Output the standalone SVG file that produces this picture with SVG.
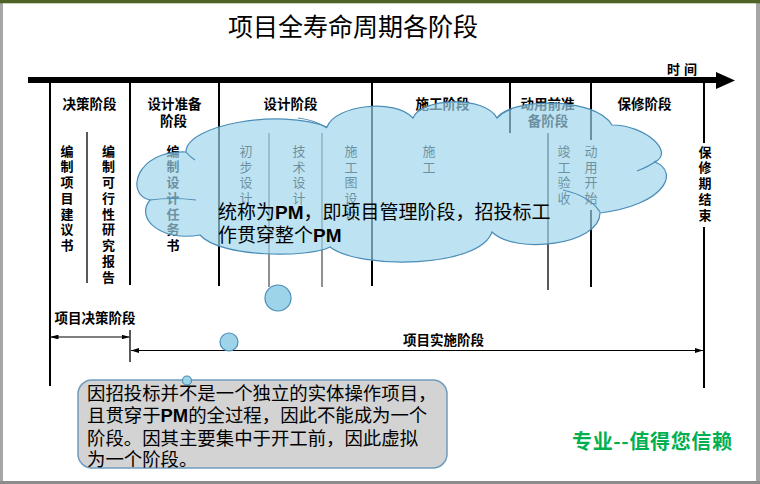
<svg xmlns="http://www.w3.org/2000/svg" width="760" height="484" viewBox="0 0 760 484">
<style>
  .cjk { font-family: "Noto Sans CJK SC", "Liberation Sans", sans-serif; fill: #000; }
  .head { font-size: 13.5px; font-weight: bold; text-anchor: middle; }
  .col { font-size: 13px; text-anchor: middle; }
  .colb { font-size: 13px; text-anchor: middle; font-weight: bold; }
  .thick { stroke: #000; stroke-width: 2; fill: none; }
  .thin { stroke: #000; stroke-width: 1.3; fill: none; }
  .grayl { stroke: #555; stroke-width: 1.3; fill: none; }
  .arr { stroke: #000; stroke-width: 1.2; fill: none; marker-start: url(#ah); marker-end: url(#ah); }
  .cloud { fill: #9ED4EA; fill-opacity: 0.68; stroke: #4A8DB7; stroke-width: 1.2; }
  .inner { fill: none; stroke: #4A8DB7; stroke-width: 1.2; }
  .bubble { fill: #9ED4EA; stroke: #4A8DB7; stroke-width: 1.2; }
  .pm { font-family: "Liberation Sans", Arial, sans-serif; font-weight: bold; }
</style>
<defs>
  <marker id="ah" viewBox="0 0 10 6" refX="10" refY="3" markerWidth="8" markerHeight="4.8" markerUnits="userSpaceOnUse" orient="auto-start-reverse">
    <path d="M0,0 L10,3 L0,6 z" fill="#000"/>
  </marker>
</defs>

<!-- frame -->
<g id="frame">
  <rect x="0" y="0" width="760" height="484" fill="#fff"/>
  <rect x="0" y="0" width="3" height="484" fill="#A6A6A6"/>
  <rect x="756" y="0" width="4" height="484" fill="#A6A6A6"/>
  <rect x="0" y="481" width="760" height="3" fill="#8C8C8C"/>
  <rect x="0" y="0" width="760" height="3.3" fill="#4F6228"/>
</g>

<g id="title">
  <text class="cjk" x="228" y="36" font-size="25">项目全寿命周期各阶段</text>
</g>

<!-- connectors -->
<g id="connectors">
  <rect x="28" y="77" width="690" height="6" fill="#000"/>
  <polygon points="716,72 735,80.5 716,89" fill="#000"/>
  <line class="thick" x1="50" y1="83" x2="50" y2="386"/>
  <line class="thick" x1="130" y1="83" x2="130" y2="285"/>
  <line class="thick" x1="219" y1="83" x2="219" y2="286"/>
  <line class="thick" x1="372" y1="83" x2="372" y2="286"/>
  <line class="thick" x1="510" y1="83" x2="510" y2="133"/>
  <line class="thick" x1="591" y1="83" x2="591" y2="140"/>
  <line class="thick" x1="591" y1="210" x2="591" y2="287"/>
  <line class="thick" x1="704" y1="83" x2="704" y2="143"/>
  <line class="thick" x1="704" y1="227" x2="704" y2="388"/>
  <line class="thin" x1="87" y1="132" x2="87" y2="283"/>
  <line class="grayl" x1="269" y1="133" x2="269" y2="287"/>
  <line class="grayl" x1="322" y1="133" x2="322" y2="287"/>
  <line class="thin" x1="548" y1="133" x2="548" y2="290"/>
  <line class="arr" x1="50.5" y1="337" x2="129.5" y2="337"/>
  <line class="thin" x1="130" y1="330" x2="130" y2="362"/>
  <line class="arr" x1="131" y1="350.5" x2="703" y2="350.5"/>
</g>

<g id="axis-label">
  <text class="cjk" x="667" y="74" font-size="13" font-weight="bold">时</text>
  <text class="cjk" x="684" y="74" font-size="13" font-weight="bold">间</text>
</g>

<!-- stage headings -->
<g id="stage-decision"><text class="cjk head" x="89.5" y="109">决策阶段</text></g>
<g id="stage-design-prep"><text class="cjk head" x="174.5" y="109">设计准备</text><text class="cjk head" x="173.5" y="126">阶段</text></g>
<g id="stage-design"><text class="cjk head" x="290.5" y="109">设计阶段</text></g>
<g id="stage-construction"><text class="cjk head" x="442.5" y="109">施工阶段</text></g>
<g id="stage-preuse"><text class="cjk head" x="547.5" y="109">动用前准</text><text class="cjk head" x="548" y="126">备阶段</text></g>
<g id="stage-warranty"><text class="cjk head" x="644.5" y="109">保修阶段</text></g>

<!-- column items -->
<g id="col-proposal">
  <text class="cjk colb"><tspan x="67" y="155.5">编</tspan><tspan x="67" y="171.25">制</tspan><tspan x="67" y="187">项</tspan><tspan x="67" y="202.75">目</tspan><tspan x="67" y="218.5">建</tspan><tspan x="67" y="234.25">议</tspan><tspan x="67" y="250">书</tspan></text>
</g>
<g id="col-feasibility">
  <text class="cjk colb"><tspan x="108.5" y="155.5">编</tspan><tspan x="108.5" y="171.25">制</tspan><tspan x="108.5" y="187">可</tspan><tspan x="108.5" y="202.75">行</tspan><tspan x="108.5" y="218.5">性</tspan><tspan x="108.5" y="234.25">研</tspan><tspan x="108.5" y="250">究</tspan><tspan x="108.5" y="265.75">报</tspan><tspan x="108.5" y="281.5">告</tspan></text>
</g>
<g id="col-design-brief">
  <text class="cjk colb"><tspan x="173" y="155.5">编</tspan><tspan x="173" y="171.25">制</tspan><tspan x="173" y="187">设</tspan><tspan x="173" y="202.75">计</tspan><tspan x="173" y="218.5">任</tspan><tspan x="173" y="234.25">务</tspan><tspan x="173" y="250">书</tspan></text>
</g>
<g id="col-prelim">
  <text class="cjk col"><tspan x="246" y="156">初</tspan><tspan x="246" y="171.5">步</tspan><tspan x="246" y="187">设</tspan><tspan x="246" y="202.5">计</tspan></text>
</g>
<g id="col-technical">
  <text class="cjk col"><tspan x="299" y="156">技</tspan><tspan x="299" y="171.5">术</tspan><tspan x="299" y="187">设</tspan><tspan x="299" y="202.5">计</tspan></text>
</g>
<g id="col-drawings">
  <text class="cjk col"><tspan x="351" y="156">施</tspan><tspan x="351" y="171.5">工</tspan><tspan x="351" y="187">图</tspan><tspan x="351" y="202.5">设</tspan><tspan x="351" y="218">计</tspan></text>
</g>
<g id="col-construct">
  <text class="cjk col"><tspan x="429" y="156">施</tspan><tspan x="429" y="171.5">工</tspan></text>
</g>
<g id="col-acceptance">
  <text class="cjk col"><tspan x="564" y="156">竣</tspan><tspan x="564" y="171.5">工</tspan><tspan x="564" y="187">验</tspan><tspan x="564" y="202.5">收</tspan></text>
</g>
<g id="col-use">
  <text class="cjk col"><tspan x="591" y="156">动</tspan><tspan x="591" y="171.5">用</tspan><tspan x="591" y="187">开</tspan><tspan x="591" y="202.5">始</tspan></text>
</g>
<g id="col-warranty-end">
  <text class="cjk colb"><tspan x="705" y="156.5">保</tspan><tspan x="705" y="172.25">修</tspan><tspan x="705" y="188">期</tspan><tspan x="705" y="203.75">结</tspan><tspan x="705" y="219.5">束</tspan></text>
</g>

<!-- span labels -->
<g id="label-decision-phase"><text class="cjk head" x="95" y="323">项目决策阶段</text></g>
<g id="label-implementation-phase"><text class="cjk head" x="443.5" y="345">项目实施阶段</text></g>

<!-- cloud callout -->
<g id="cloud">
  <path class="cloud" d="M186,152 C186,125 280,108 327,127 C335,105 395,98 413,118 C420,98 485,95 497,118 C510,98 595,96 612,125 C645,125 675,152 655,162 C680,172 665,205 600,213 C600,245 515,255 492,232 C480,268 360,270 330,247 C310,258 220,258 200,235 C160,242 135,218 150,200 C125,195 135,150 186,152 Z"/>
  <path class="inner" d="M298,118 Q315,120 327,128"/>
  <path class="inner" d="M186,152 Q190,157 195,160"/>
  <path class="inner" d="M150,200 Q172,197 196,200"/>
  <path class="inner" d="M637,171 Q650,166 656,161"/>
  <path class="inner" d="M563,190 Q590,196 600,212"/>
  <path class="inner" d="M497,118 Q503,112 512,109"/>
  <text class="cjk" x="218" y="219" font-size="19">统称为<tspan class="pm">PM</tspan>，即项目管理阶段，招投标工</text>
  <text class="cjk" x="218" y="242" font-size="19">作贯穿整个<tspan class="pm">PM</tspan></text>
</g>

<g id="bubbles">
  <circle class="bubble" cx="278" cy="298" r="13"/>
  <circle class="bubble" cx="229" cy="342" r="9"/>
</g>

<!-- note box -->
<g id="note">
  <rect x="78" y="380" width="369" height="88" rx="14" ry="14" fill="#D3D3D3" stroke="#6E9CC0" stroke-width="1.5"/>
  <circle class="bubble" cx="187" cy="380.5" r="4.5"/>
  <text class="cjk" font-size="18.4">
    <tspan x="87" y="400">因招投标并不是一个独立的实体操作项目，</tspan>
    <tspan x="87" y="422">且贯穿于<tspan class="pm">PM</tspan>的全过程，因此不能成为一个</tspan>
    <tspan x="87" y="444.5">阶段。因其主要集中于开工前，因此虚拟</tspan>
    <tspan x="87" y="466">为一个阶段。</tspan>
  </text>
</g>

<g id="slogan">
  <text x="572" y="449" font-family="Noto Sans CJK SC, Liberation Sans, sans-serif" font-size="20" font-weight="bold" fill="#00B050" textLength="160" lengthAdjust="spacing">专业--值得您信赖</text>
</g>
</svg>
